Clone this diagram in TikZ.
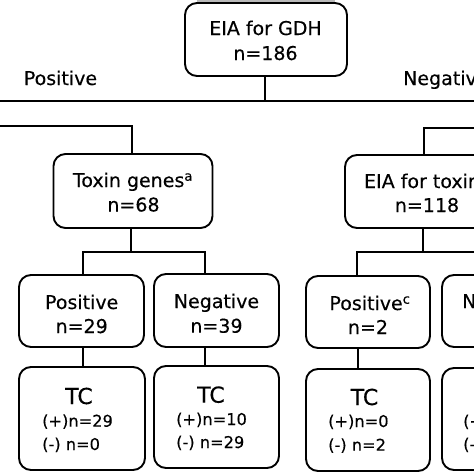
\documentclass[tikz,border=0pt]{standalone}
\usepackage{fontspec}
\setmainfont{DejaVu Sans}[FakeBold=0.3]
\newcommand\bxfont{\fontsize{19}{24}\selectfont}
\newcommand\tcfont{\fontsize{22}{24}\selectfont}
\newcommand\smfont{\fontsize{16.2}{20}\selectfont}
\begin{document}
\begin{tikzpicture}[x=1pt,y=-1pt,
  box/.style={draw, line width=1.9pt, rounded corners=12pt, inner sep=0pt},
  conn/.style={draw, line width=1.8pt},
  txt/.style={font=\bxfont, inner sep=0pt, anchor=base},
  tctxt/.style={font=\tcfont, inner sep=0pt, anchor=base},
  smtxt/.style={font=\smfont, inner sep=0pt, anchor=base west}]
\useasboundingbox (0,0) rectangle (474,474);
\clip (0,0) rectangle (474,474);
\fill[white] (0,0) rectangle (474,474);
\fill[gray!55] (197,0) rectangle (335,2.5);
% boxes
\node[box, minimum width=162pt, minimum height=73pt] (top) at (266,39.5) {};
\node[box, minimum width=159pt, minimum height=74pt] (tox) at (133,191) {};
\node[box, minimum width=158pt, minimum height=73pt] (eia) at (424,191.5) {};
\node[box, minimum width=125pt, minimum height=72pt] (pos1) at (81.5,311) {};
\node[box, minimum width=125pt, minimum height=73pt] (neg1) at (216.5,310.5) {};
\node[box, minimum width=124pt, minimum height=72pt] (posc) at (368,312) {};
\node[box, minimum width=125pt, minimum height=72pt] (neg2) at (504.5,311) {};
\node[box, minimum width=126pt, minimum height=103pt] (tc1) at (82,418.5) {};
\node[box, minimum width=125pt, minimum height=102pt] (tc2) at (216.5,417) {};
\node[box, minimum width=124pt, minimum height=102pt] (tc3) at (368,420) {};
\node[box, minimum width=125pt, minimum height=102pt] (tc4) at (504.5,419) {};
% texts
\node[txt] (t1a) at (265.5,35) {EIA for GDH};
\node[txt] (t1b) at (265.5,60) {n=186};
\node[txt] (lpos) at (60.5,85) {Positive};
\node[txt, anchor=base west] (lneg) at (403,85) {Negative};
\node[txt] (t2a) at (133,187) {Toxin genes\textsuperscript{a}};
\node[txt] (t2b) at (133.5,211.5) {n=68};
\node[txt] (t3a) at (427,188) {EIA for toxins};
\node[txt] (t3b) at (427,212) {n=118};
\node[txt] (t4a) at (81.7,309) {Positive};
\node[txt] (t4b) at (81.7,333) {n=29};
\node[txt] (t5a) at (216.5,308) {Negative};
\node[txt] (t5b) at (216.5,332.7) {n=39};
\node[txt] (t6a) at (370,310) {Positive\textsuperscript{c}};
\node[txt] (t6b) at (368,334) {n=2};
\node[txt, anchor=base west] (t7a) at (462,308) {Negative};
\node[tctxt] (c1) at (79,404) {TC};
\node[smtxt] (c1a) at (42,426.7) {(+)n=29};
\node[smtxt] (c1b) at (42,450) {(-) n=0};
\node[tctxt] (c2) at (211,402.7) {TC};
\node[smtxt] (c2a) at (176,425) {(+)n=10};
\node[smtxt] (c2b) at (176,448) {(-) n=29};
\node[tctxt] (c3) at (364.5,405) {TC};
\node[smtxt] (c3a) at (328,427) {(+)n=0};
\node[smtxt] (c3b) at (328,450.7) {(-) n=2};
\node[smtxt] (c4a) at (463,427) {(+};
\node[smtxt] (c4b) at (463,450) {(-};
% connectors
\coordinate (hl) at (0,101);
\coordinate (hr) at (474,101);
\draw[conn] (hl) -- (hr);
\draw[conn] ([xshift=-1pt]top.south) -- ([xshift=-1pt]top.south |- hl);
\coordinate (lb) at (0,126);
\draw[conn] (lb) -- ([xshift=-1pt]lb -| tox.north) -- ([xshift=-1pt]tox.north);
\coordinate (rb) at (474,128);
\draw[conn] (rb) -- (rb -| eia.north) -- (eia.north);
\coordinate (tb) at (0,252);
\draw[conn] ([xshift=-2pt]tox.south) -- ([xshift=-2pt]tox.south |- tb);
\draw[conn] ([xshift=1.5pt]pos1.north) -- ([xshift=1.5pt]pos1.north |- tb)
  -- ([xshift=-11.5pt]neg1.north |- tb) -- ([xshift=-11.5pt]neg1.north);
\draw[conn] ([xshift=1.5pt]pos1.south) -- ([xshift=1.5pt]pos1.south |- tc1.north);
\draw[conn] ([xshift=-11.5pt]neg1.south) -- ([xshift=-11.5pt]neg1.south |- tc2.north);
\coordinate (rtb) at (474,252);
\draw[conn] ([xshift=-1pt]eia.south) -- ([xshift=-1pt]eia.south |- rtb);
\draw[conn] (rtb) -- ([xshift=-11pt]posc.north |- rtb) -- ([xshift=-11pt]posc.north);
\draw[conn] ([xshift=-10pt]posc.south) -- ([xshift=-10pt]posc.south |- tc3.north);
\end{tikzpicture}
\end{document}
